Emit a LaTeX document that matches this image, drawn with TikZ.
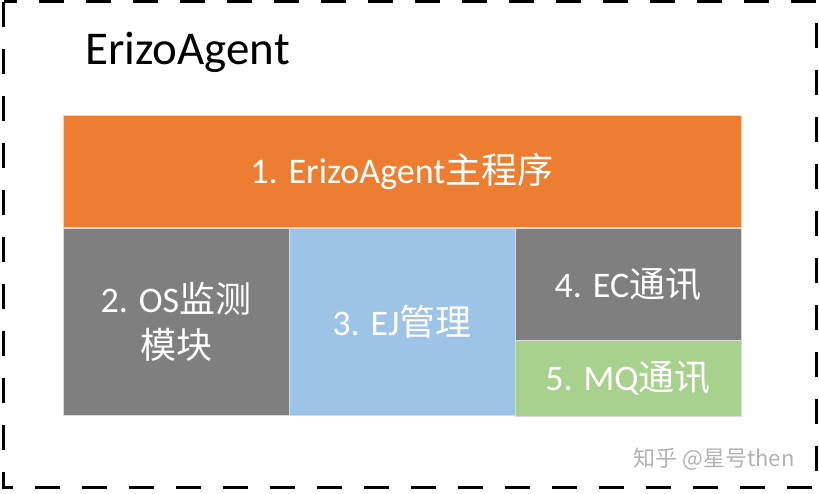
\documentclass[tikz,border=0pt]{standalone}
\usepackage{fontspec}
\setmainfont{Carlito}
\newfontfamily\cjk{Noto Sans CJK SC}
\definecolor{agentorange}{HTML}{ED7D31}
\definecolor{agentgray}{HTML}{7F7F7F}
\definecolor{agentblue}{HTML}{9DC3E6}
\definecolor{agentgreen}{HTML}{A9D18E}
\tikzset{
	part/.style={rectangle, draw=white!85!black, line width=1pt, inner sep=0pt,
		text=white, font=\fontsize{36}{46}\selectfont, align=center},
}
\begin{document}
\begin{tikzpicture}[x=1pt, y=-1pt]
		\useasboundingbox (0,0) rectangle (819,493);
		\draw[line width=2.5pt, dash pattern=on 25pt off 22pt] (3.5,1.5) rectangle (816.5,487.5);
		\node[anchor=base west, inner sep=0pt, font=\fontsize{47}{50}\selectfont] (title) at (85,64) {ErizoAgent};
		
		\node[part, fill=agentorange, minimum width=678pt, minimum height=112pt] (main) at (402,171) {1. ErizoAgent{\cjk 主程序}};
		\node[part, fill=agentgray, minimum width=226pt, minimum height=187pt] (os) at (176,321.5) {2. OS{\cjk 监测}\\{\cjk 模块}};
		\node[part, fill=agentblue, minimum width=226pt, minimum height=187pt] (ej) at (402,321.5) {3. EJ{\cjk 管理}};
		\node[part, fill=agentgray, minimum width=226pt, minimum height=112pt] (ec) at (628,284) {4. EC{\cjk 通讯}};
		\node[part, fill=agentgreen, minimum width=226pt, minimum height=76pt] (mq) at (628,378) {5. MQ{\cjk 通讯}};
		
		\node[anchor=east, text=black!30, font=\cjk\fontsize{22}{24}\selectfont] (mark) at (798,459) {知乎 @星号then};
\end{tikzpicture}
\end{document}
